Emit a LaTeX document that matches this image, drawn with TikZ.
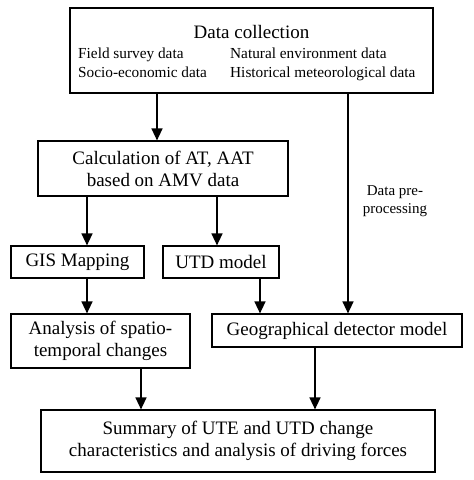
\documentclass[tikz,border=0pt]{standalone}
\usepackage{fontspec}
\setmainfont{Liberation Serif}
\usetikzlibrary{arrows.meta}

\tikzset{
  box/.style={draw,line width=1.2pt,inner sep=2pt,align=center,font=\fontsize{19}{22}\selectfont},
  flow/.style={line width=1.4pt,-{Triangle[length=12pt,width=11pt]}},
  small/.style={font=\fontsize{15.3}{17}\selectfont,inner sep=0pt}
}

\begin{document}
\begin{tikzpicture}[x=1pt,y=-1pt]
  \useasboundingbox (0,0) rectangle (474,480);
  % boxes
  \node[box,minimum width=363pt,minimum height=85pt] (dc) at (251.5,50.5) {};
  \node[font=\fontsize{19}{22}\selectfont] (dctitle) at (251.5,32) {Data collection};
  \node[small,anchor=base west] (f1) at (78,58) {Field survey data};
  \node[small,anchor=base west] (f2) at (230,58) {Natural environment data};
  \node[small,anchor=base west] (f3) at (78,77) {Socio-economic data};
  \node[small,anchor=base west] (f4) at (230,77) {Historical meteorological data};
  \node[box,minimum width=250pt,minimum height=55pt] (calc) at (163,168.5) {Calculation of AT, AAT\\based on AMV data};
  \node[box,minimum width=133pt,minimum height=32pt] (gis) at (77.5,262) {GIS Mapping};
  \node[box,minimum width=116pt,minimum height=32pt] (utd) at (221,262) {UTD model};
  \node[box,minimum width=179pt,minimum height=54pt] (ana) at (100.5,341) {Analysis of spatio-\\temporal changes};
  \node[box,minimum width=250pt,minimum height=33pt] (geo) at (337,330.5) {Geographical detector model};
  \node[box,minimum width=394pt,minimum height=62pt] (sum) at (238,441) {Summary of UTE and UTD change\\characteristics and analysis of driving forces};
  \node[font=\fontsize{15}{18}\selectfont,align=center] (pre) at (395,201) {Data pre-\\processing};
  % connectors
  \draw[flow] (dc.south -| 157,0) -- (calc.north -| 157,0);
  \draw[flow] (dc.south -| 348,0) -- (geo.north -| 348,0);
  \draw[flow] (calc.south -| 87,0) -- (gis.north -| 87,0);
  \draw[flow] (calc.south -| 217,0) -- (utd.north -| 217,0);
  \draw[flow] (gis.south -| 87,0) -- (ana.north -| 87,0);
  \draw[flow] (utd.south -| 260,0) -- (geo.north -| 260,0);
  \draw[flow] (ana.south -| 141,0) -- (sum.north -| 141,0);
  \draw[flow] (geo.south -| 315,0) -- (sum.north -| 315,0);
\end{tikzpicture}
\end{document}
